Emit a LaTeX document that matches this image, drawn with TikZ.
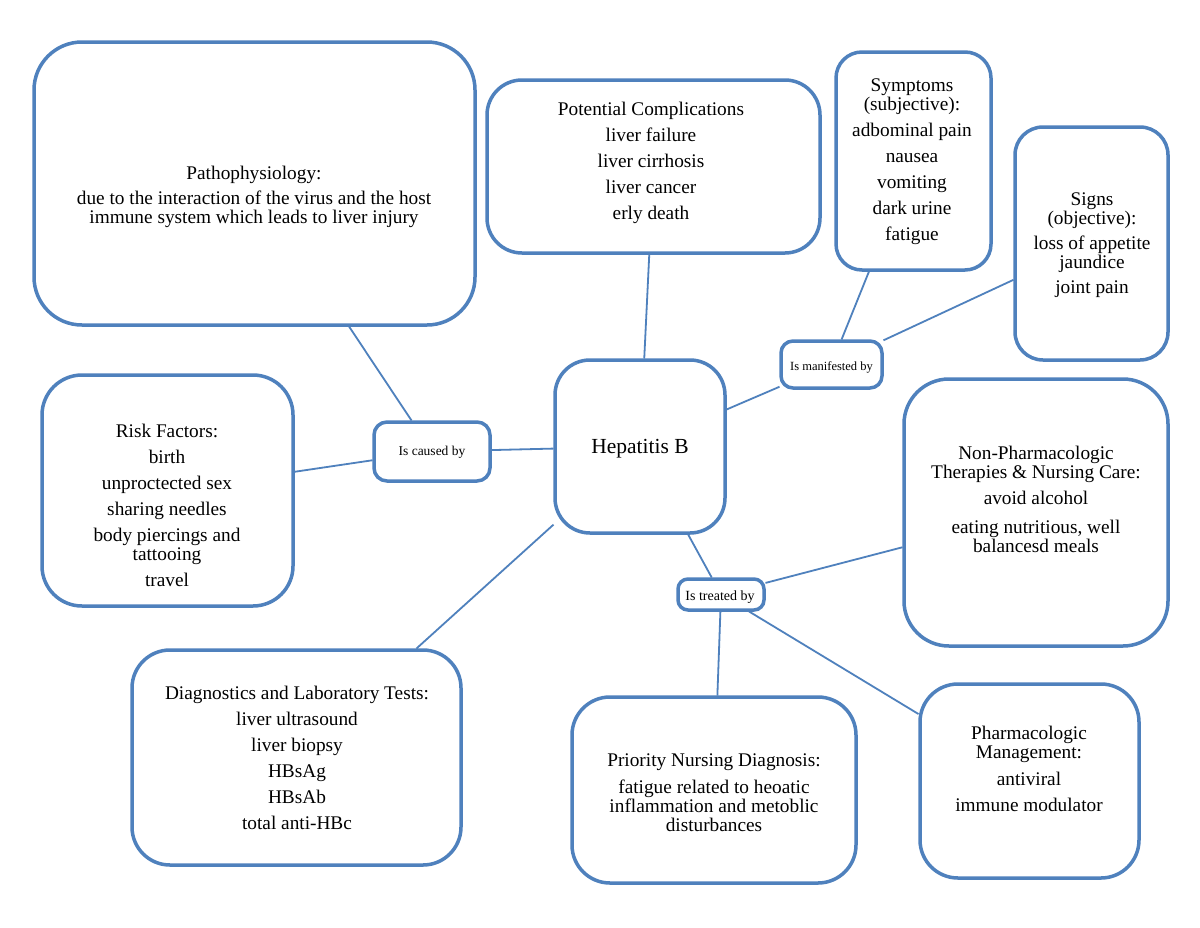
\documentclass[tikz,border=0pt]{standalone}
\usepackage{fontspec}
\setmainfont{Liberation Serif}
\definecolor{bl}{RGB}{79,129,189}
\tikzset{
  box/.style={draw=bl, line width=3.5pt, rounded corners=#1, fill=white, inner sep=0pt, outer sep=1.5pt},
  box/.default=35pt,
  conn/.style={draw=bl, line width=1.8pt},
  txt/.style={align=center, inner sep=0pt, font=\fontsize{19.3}{19}\selectfont},
  lbl/.style={inner sep=0pt, font=\fontsize{#1}{#1}\selectfont},
}
\begin{document}
\begin{tikzpicture}[x=1pt,y=-1pt]
\useasboundingbox[fill=white] (0,0) rectangle (1200,927);

% boxes
\node[box=48pt, minimum width=441pt, minimum height=283pt] (patho) at (254.5,183.5) {};
\node[box=35pt, minimum width=333pt, minimum height=173pt] (compl) at (653.5,166.5) {};
\node[box=26pt, minimum width=155pt, minimum height=218pt] (sympt) at (913.5,161) {};
\node[box=28pt, minimum width=153pt, minimum height=233pt] (signs) at (1091.5,243.5) {};
\node[box=35pt, minimum width=170pt, minimum height=173pt] (hep) at (640,446.5) {};
\node[box=40pt, minimum width=251pt, minimum height=231pt] (risk) at (167.5,490.5) {};
\node[box=13pt, minimum width=116pt, minimum height=59pt] (caused) at (432,451.5) {};
\node[box=12pt, minimum width=101pt, minimum height=47pt] (manif) at (831.5,364.5) {};
\node[box=45pt, minimum width=264pt, minimum height=267pt] (nonph) at (1036,512.5) {};
\node[box=10pt, minimum width=86pt, minimum height=31pt] (treated) at (721,594.5) {};
\node[box=38pt, minimum width=329pt, minimum height=215pt] (diag) at (296.5,757.5) {};
\node[box=38pt, minimum width=284pt, minimum height=186pt] (prio) at (714,790) {};
\node[box=38pt, minimum width=219pt, minimum height=194pt] (pharm) at (1029.5,781) {};

% connectors
\draw[conn] (patho) -- (caused);
\draw[conn] (risk) -- (caused);
\draw[conn] (caused) -- (hep);
\draw[conn] (compl) -- (hep);
\draw[conn] (hep) -- (manif);
\draw[conn] (manif) -- (sympt);
\draw[conn] (manif) -- (signs);
\draw[conn] (hep) -- (treated);
\draw[conn] (hep) -- (diag);
\draw[conn] (treated) -- (nonph);
\draw[conn] (treated) -- (prio);
\draw[conn] (treated) -- (pharm);

% texts
\node[txt] (pathoT) at (254,197) {Pathophysiology:\\[6pt]due to the interaction of the virus and the host\\immune system which leads to liver injury};
\node[txt] (complT) at (651,163) {Potential Complications\\[7pt]liver failure\\[7pt]liver cirrhosis\\[7pt]liver cancer\\[7pt]erly death};
\node[txt] (symptT) at (912,162) {Symptoms\\(subjective):\\[7pt]adbominal pain\\[7pt]nausea\\[7pt]vomiting\\[7pt]dark urine\\[7pt]fatigue};
\node[txt] (signsT) at (1092,245.5) {Signs\\(objective):\\[6pt]loss of appetite\\jaundice\\[6pt]joint pain};
\node[inner sep=0pt, font=\fontsize{21.5}{24}\selectfont] (hepT) at (640,449) {Hepatitis B};
\node[txt] (riskT) at (167,505.5) {Risk Factors:\\[7pt]birth\\[7pt]unproctected sex\\[7pt]sharing needles\\[7pt]body piercings and\\tattooing\\[7pt]travel};
\node[txt] (nonphT) at (1036,499.5) {Non-Pharmacologic\\Therapies \& Nursing Care:\\[7pt]avoid alcohol\\[10pt]eating nutritious, well\\balancesd meals};
\node[txt] (diagT) at (297,757.5) {Diagnostics and Laboratory Tests:\\[7pt]liver ultrasound\\[7pt]liver biopsy\\[7pt]HBsAg\\[7pt]HBsAb\\[7pt]total anti-HBc};
\node[txt] (prioT) at (714,792.5) {Priority Nursing Diagnosis:\\[8pt]fatigue related to heoatic\\inflammation and metoblic\\disturbances};
\node[txt] (pharmT) at (1029,768.5) {Pharmacologic\\Management:\\[8pt]antiviral\\[7pt]immune modulator};

\node[lbl=13.5] (causedT) at (432,452) {Is caused by};
\node[lbl=12.5] (manifT) at (831.5,367) {Is manifested by};
\node[lbl=14] (treatedT) at (720,597) {Is treated by};
\end{tikzpicture}
\end{document}
